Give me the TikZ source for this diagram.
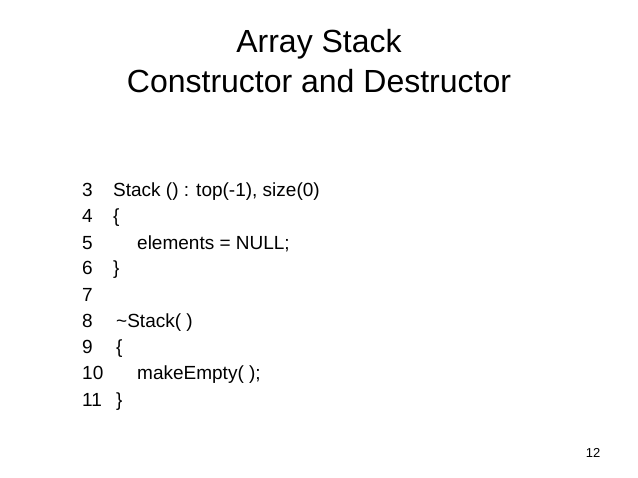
\documentclass[tikz,border=0pt]{standalone}
\usepackage{fontspec}
\setmainfont{Liberation Sans}
\begin{document}
\begin{tikzpicture}[x=1pt,y=-1pt,
  code/.style={anchor=base west,inner sep=0pt,font=\fontsize{19}{22}\selectfont},
  ttl/.style={anchor=base,inner sep=0pt,font=\fontsize{32}{36}\selectfont}]
\useasboundingbox (0,0) rectangle (638,478);
\node[ttl] (t1) at (319,53) {Array Stack};
\node[ttl] (t2) at (319,93) {Constructor and Destructor};
\foreach \n/\y in {3/197,4/223,5/250,6/275,7/302,8/328,9/354,10/380,11/407}
  \node[code] (n\n) at (82,\y) {\n};
\node[code] (c3) at (113,197) {Stack () : top(-1), size(0)};
\node[code] (c4) at (113,223) {\{};
\node[code] (c5) at (137,250) {elements = NULL;};
\node[code] (c6) at (113,275) {\}};
\node[code] (c8) at (116,328) {\textasciitilde Stack( )};
\node[code] (c9) at (116,354) {\{};
\node[code] (c10) at (137,380) {makeEmpty( );};
\node[code] (c11) at (116,407) {\}};
\node[anchor=base,inner sep=0pt,font=\fontsize{13}{15}\selectfont] (pg) at (593,458) {12};
\end{tikzpicture}
\end{document}
